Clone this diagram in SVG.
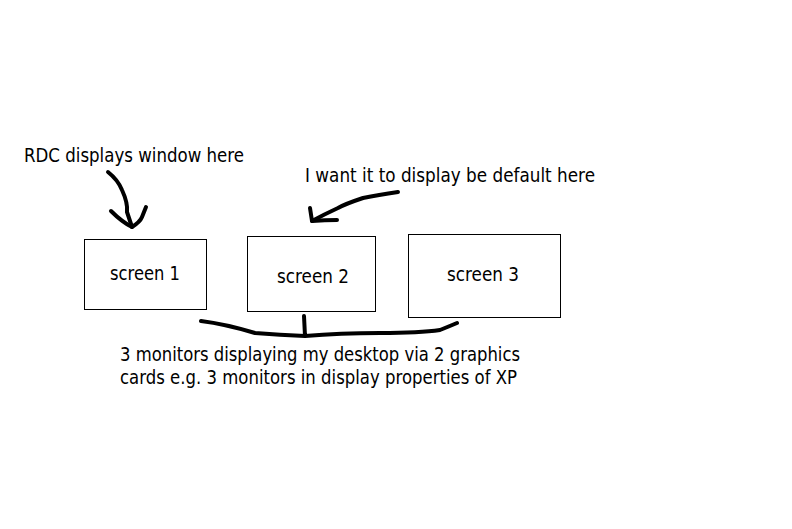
<svg xmlns="http://www.w3.org/2000/svg" width="792" height="529" viewBox="0 0 792 529">
<style>
.box{fill:#fff;stroke:#000;stroke-width:1}
.t{font-family:"DejaVu Sans","Liberation Sans",sans-serif;font-size:19px;fill:#000}
.ink{fill:none;stroke:#000;stroke-width:4;stroke-linecap:round;stroke-linejoin:round}
</style>
<rect width="792" height="529" fill="#fff"/>
<g id="label-rdc"><text class="t" x="24" y="162" textLength="220" lengthAdjust="spacingAndGlyphs">RDC displays window here</text></g>
<g id="label-default"><text class="t" x="305" y="182" textLength="290" lengthAdjust="spacingAndGlyphs">I want it to display be default here</text></g>
<g id="screen1"><rect class="box" x="84.5" y="239.5" width="122" height="70"/><text class="t" x="110" y="280" textLength="70" lengthAdjust="spacingAndGlyphs">screen 1</text></g>
<g id="screen2"><rect class="box" x="247.5" y="236.5" width="128" height="75"/><text class="t" x="277" y="283" textLength="72" lengthAdjust="spacingAndGlyphs">screen 2</text></g>
<g id="screen3"><rect class="box" x="408.5" y="234.5" width="152" height="83"/><text class="t" x="447" y="281" textLength="72" lengthAdjust="spacingAndGlyphs">screen 3</text></g>
<g id="label-monitors"><text class="t" x="120" y="361" textLength="400" lengthAdjust="spacingAndGlyphs">3 monitors displaying my desktop via 2 graphics</text><text class="t" x="120" y="384" textLength="397" lengthAdjust="spacingAndGlyphs">cards e.g. 3 monitors in display properties of XP</text></g>
<g id="connectors">
<path class="ink" d="M108,172 Q118,180 122,190 Q128,203 127,212 L132,227"/>
<path class="ink" d="M111,211 Q122,222 132,227 Q140,222 142,217 L146,207"/>
<path class="ink" d="M398,192 Q378,195 363,198 Q345,204 338,208 Q325,214 312,221"/>
<path class="ink" d="M310,208 L312,221 Q325,220 337,220"/>
<path class="ink" d="M201,321 Q225,324 255,333 Q280,335 305,336 L304,316 M305,336 Q340,333 380,333 Q420,333 440,330 Q450,326 457,323"/>
</g>
</svg>
